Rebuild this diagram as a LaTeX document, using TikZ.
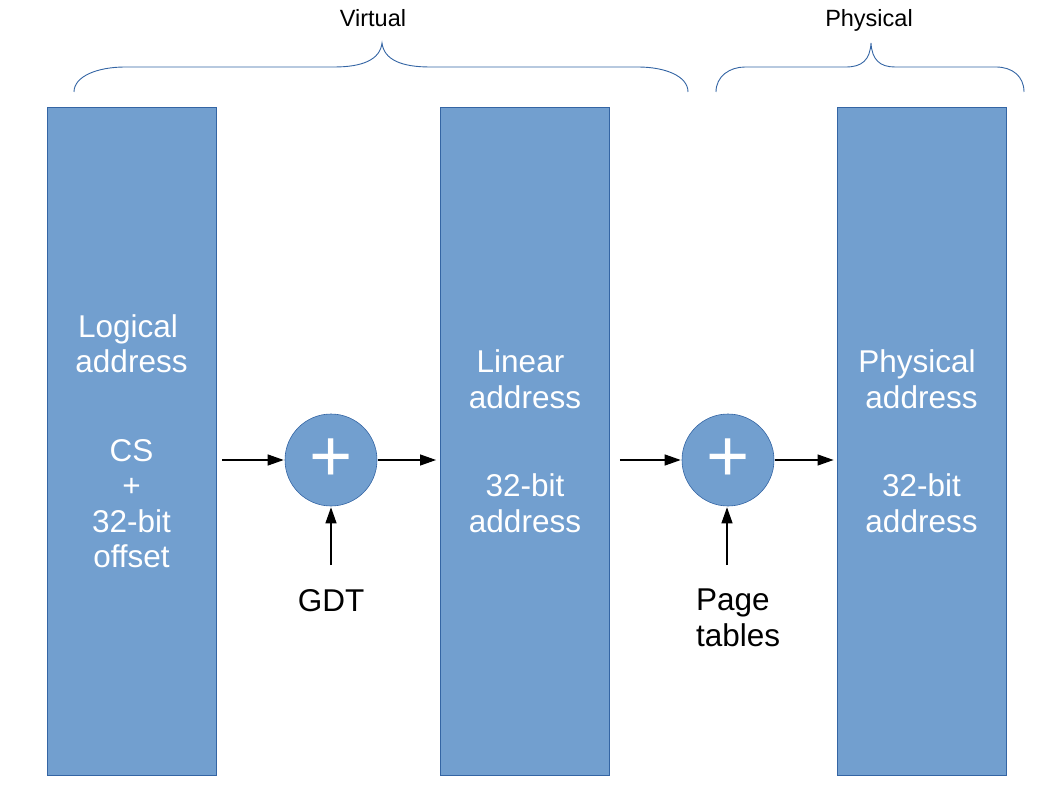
\documentclass[tikz,border=0pt]{standalone}
\usepackage{fontspec}
\setmainfont{Liberation Sans}
\usetikzlibrary{arrows.meta}
\definecolor{boxfill}{HTML}{729FCF}
\definecolor{boxline}{HTML}{3465A4}
\newcommand{\tsp}[1]{\hspace*{#1pt}}
\tikzset{
  stage/.style={draw=boxline, line width=0.9pt, fill=boxfill, minimum width=169pt, minimum height=668pt, inner sep=0pt, text=white, align=center, font=\fontsize{31.5}{35.5}\selectfont},
  adder/.style={circle, draw=boxline, line width=0.6pt, fill=boxfill, minimum size=92pt, inner sep=0pt, text=white, font=\fontsize{74}{74}\selectfont},
  arr/.style={-{Triangle[length=16pt,width=11pt]}, line width=1.2pt, black},
  lbl/.style={font=\fontsize{31.5}{35.5}\selectfont, text=black, inner sep=0pt},
  toplbl/.style={font=\fontsize{23.5}{26}\selectfont, text=black, inner sep=0pt},
  bracket/.style={draw=boxline, line width=0.9pt}
}
\begin{document}
\begin{tikzpicture}[x=1pt,y=-1pt]
\useasboundingbox (0,0) rectangle (1058,794);
% stages
\node[stage] (r1) at (131.5,441) {Logical\tsp{7}\\address\\[53pt]CS\tsp{13}\\+\tsp{18}\\32-bit\tsp{9}\\offset};
\node[stage] (r2) at (525,441) {Linear\tsp{9}\\address\\[53pt]32-bit\tsp{9}\\address};
\node[stage] (r3) at (921.5,441) {Physical\tsp{9}\\address\\[53pt]32-bit\tsp{8}\\address};
% adders
\node[adder] (c1) at (331,460) {\raisebox{-0.05em}{+}};
\node[adder] (c2) at (728,460) {\raisebox{-0.05em}{+}};
% inputs
\node[lbl, anchor=base] (gdt) at (331,611) {GDT};
\node[lbl, anchor=base west, align=left] (pt) at (696,646) {Page\\tables};
\coordinate (g1) at (331,565);
\coordinate (p1) at (727,565);
% connectors
\draw[arr, shorten <=6pt, shorten >=1pt] (r1.east |- c1.west) -- (c1.west);
\draw[arr, shorten <=1pt, shorten >=4pt] (c1.east) -- (r2.west |- c1.east);
\draw[arr, shorten <=10pt, shorten >=1pt] (r2.east |- c2.west) -- (c2.west);
\draw[arr, shorten <=1pt, shorten >=3pt] (c2.east) -- (r3.west |- c2.east);
\draw[arr, shorten >=1pt] (g1) -- (c1.south);
\draw[arr, shorten >=1pt] (p1) -- (c2.south -| p1);
% braces
\draw[bracket] (74,92) .. controls (74,76) and (98,67) .. (125,67) -- (334,67)
  .. controls (362,67) and (380,60) .. (382,43)
  .. controls (384,60) and (402,67) .. (430,67) -- (638,67)
  .. controls (665,67) and (688,76) .. (688,92);
\draw[bracket] (716,92) .. controls (716,76) and (730,67) .. (745,67) -- (846,67)
  .. controls (862,67) and (870,60) .. (871,43)
  .. controls (872,60) and (880,67) .. (895,67) -- (996,67)
  .. controls (1012,67) and (1024,76) .. (1024,92);
\node[toplbl, anchor=base] (virt) at (373,27) {Virtual};
\node[toplbl, anchor=base] (phys) at (869,27) {Physical};
\end{tikzpicture}
\end{document}
